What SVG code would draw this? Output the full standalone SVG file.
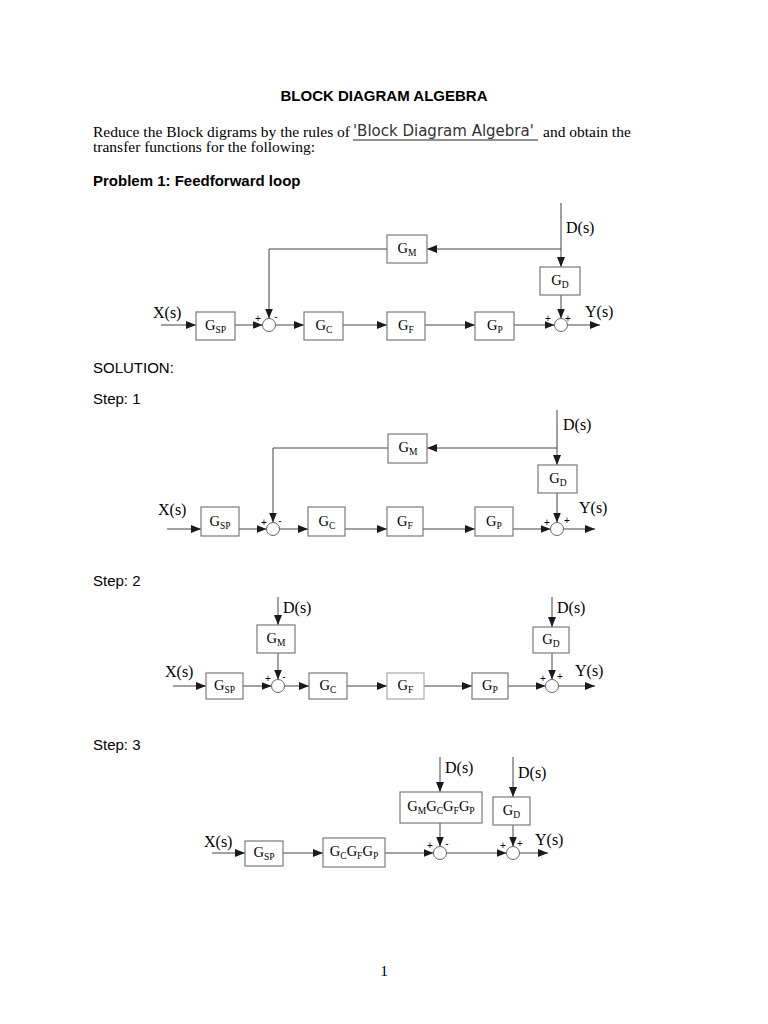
<svg xmlns="http://www.w3.org/2000/svg" width="768" height="1024" viewBox="0 0 768 1024">
<defs>
<marker id="arr" markerUnits="userSpaceOnUse" markerWidth="10" markerHeight="8" refX="10" refY="4" orient="auto">
<path d="M0,0 L10,4 L0,8 z" fill="#1a1a1a"/>
</marker>
<style>
.hd{font-family:"Liberation Sans",Arial,sans-serif;font-size:15px;fill:#000}
.b{font-weight:bold}
.tm{font-family:"Liberation Serif","Times New Roman",serif;font-size:15.5px;fill:#000}
.lk{font-family:"DejaVu Sans",Verdana,sans-serif;font-size:15px;fill:#333}
.sig{font-family:"Liberation Serif","Times New Roman",serif;font-size:16px;fill:#000}
.g{font-family:"Liberation Serif","Times New Roman",serif;font-size:14.5px;fill:#000;text-anchor:middle}
.sub{font-size:9.5px}
.sg{font-family:"Liberation Sans",Arial,sans-serif;font-size:10px;fill:#000;text-anchor:middle}
.box{fill:#fff;stroke:#7a7a7a;stroke-width:1.2}
.sum{fill:#fff;stroke:#666;stroke-width:1}
.ln{fill:none;stroke:#444;stroke-width:1}
.ar{fill:none;stroke:#444;stroke-width:1;marker-end:url(#arr)}
</style>
</defs>
<rect width="768" height="1024" fill="#fff"/>

<g id="header">
<text class="hd b" x="384" y="101" text-anchor="middle">BLOCK DIAGRAM ALGEBRA</text>
<text class="tm" x="93" y="137">Reduce the Block digrams by the rules of</text>
<text class="lk" x="353" y="136">'Block Diagram Algebra'</text>
<line x1="353" y1="140" x2="538" y2="140" stroke="#222" stroke-width="1"/>
<text class="tm" x="543" y="137">and obtain the</text>
<text class="tm" x="93" y="152">transfer functions for the following:</text>
<text class="hd b" x="93" y="186">Problem 1: Feedforward loop</text>
<text class="hd" x="93" y="373">SOLUTION:</text>
<text class="hd" x="93" y="404">Step: 1</text>
<text class="hd" x="93" y="586">Step: 2</text>
<text class="hd" x="93" y="750">Step: 3</text>
<text class="tm" x="384" y="976" text-anchor="middle" font-size="13">1</text>
</g>

<!-- ================= Problem 1 ================= -->
<g id="p1-connectors">
<line class="ar" x1="161" y1="325" x2="196" y2="325"/>
<line class="ar" x1="235" y1="325" x2="262.5" y2="325"/>
<line class="ar" x1="275.5" y1="325" x2="304" y2="325"/>
<line class="ar" x1="343" y1="325" x2="387" y2="325"/>
<line class="ar" x1="425" y1="325" x2="475" y2="325"/>
<line class="ar" x1="514" y1="325" x2="554.5" y2="325"/>
<line class="ar" x1="567.5" y1="325" x2="600" y2="325"/>
<line class="ar" x1="561" y1="203" x2="561" y2="267"/>
<line class="ar" x1="561" y1="249" x2="427" y2="249"/>
<polyline class="ar" points="387,249 269,249 269,318.5"/>
<line class="ar" x1="561" y1="295" x2="561" y2="318.5"/>
</g>
<g id="p1-labels">
<text class="sig" x="153" y="318">X(s)</text>
<text class="sig" x="585" y="317">Y(s)</text>
<text class="sig" x="566" y="233">D(s)</text>
<text class="sg" x="258" y="322">+</text>
<text class="sg" x="276" y="320">-</text>
<text class="sg" x="548" y="322">+</text>
<text class="sg" x="568" y="322">+</text>
</g>
<g id="p1-GSP"><rect class="box" x="196" y="312" width="39" height="28"/><text class="g" x="215.5" y="330">G<tspan class="sub" dy="3">SP</tspan></text></g>
<g id="p1-sum1"><circle class="sum" cx="269" cy="325" r="6.5"/></g>
<g id="p1-GC"><rect class="box" x="304" y="312" width="39" height="28"/><text class="g" x="324" y="330">G<tspan class="sub" dy="3">C</tspan></text></g>
<g id="p1-GF"><rect class="box" x="387" y="312" width="38" height="28"/><text class="g" x="406" y="330">G<tspan class="sub" dy="3">F</tspan></text></g>
<g id="p1-GP"><rect class="box" x="475" y="312" width="39" height="28"/><text class="g" x="495" y="330">G<tspan class="sub" dy="3">P</tspan></text></g>
<g id="p1-sum2"><circle class="sum" cx="561" cy="325" r="6.5"/></g>
<g id="p1-GD"><rect class="box" x="540" y="267" width="40" height="28"/><text class="g" x="560" y="285">G<tspan class="sub" dy="3">D</tspan></text></g>
<g id="p1-GM"><rect class="box" x="387" y="235" width="40" height="28"/><text class="g" x="407" y="253">G<tspan class="sub" dy="3">M</tspan></text></g>

<!-- ================= Step 1 ================= -->
<g id="s1-connectors">
<line class="ar" x1="167" y1="529" x2="201" y2="529"/>
<line class="ar" x1="239" y1="529" x2="266.5" y2="529"/>
<line class="ar" x1="279.5" y1="529" x2="308" y2="529"/>
<line class="ar" x1="345" y1="529" x2="387" y2="529"/>
<line class="ar" x1="423" y1="529" x2="475" y2="529"/>
<line class="ar" x1="513" y1="529" x2="550.5" y2="529"/>
<line class="ar" x1="563.5" y1="529" x2="595" y2="529"/>
<line class="ar" x1="557" y1="410" x2="557" y2="465"/>
<line class="ar" x1="557" y1="448" x2="427" y2="448"/>
<polyline class="ar" points="388,448 273,448 273,522.5"/>
<line class="ar" x1="557" y1="493" x2="557" y2="522.5"/>
</g>
<g id="s1-labels">
<text class="sig" x="158" y="515">X(s)</text>
<text class="sig" x="579" y="513">Y(s)</text>
<text class="sig" x="563" y="430">D(s)</text>
<text class="sg" x="264" y="526">+</text>
<text class="sg" x="280" y="524">-</text>
<text class="sg" x="547" y="526">+</text>
<text class="sg" x="567" y="524">+</text>
</g>
<g id="s1-GSP"><rect class="box" x="201" y="507" width="38" height="29"/><text class="g" x="220" y="526">G<tspan class="sub" dy="3">SP</tspan></text></g>
<g id="s1-sum1"><circle class="sum" cx="273" cy="529" r="6.5"/></g>
<g id="s1-GC"><rect class="box" x="308" y="507" width="37" height="29"/><text class="g" x="327" y="526">G<tspan class="sub" dy="3">C</tspan></text></g>
<g id="s1-GF"><rect class="box" x="387" y="507" width="36" height="29"/><text class="g" x="405" y="526">G<tspan class="sub" dy="3">F</tspan></text></g>
<g id="s1-GP"><rect class="box" x="475" y="507" width="38" height="29"/><text class="g" x="494" y="526">G<tspan class="sub" dy="3">P</tspan></text></g>
<g id="s1-sum2"><circle class="sum" cx="557" cy="529" r="6.5"/></g>
<g id="s1-GD"><rect class="box" x="538" y="465" width="39" height="28"/><text class="g" x="558" y="483">G<tspan class="sub" dy="3">D</tspan></text></g>
<g id="s1-GM"><rect class="box" x="388" y="434" width="39" height="29"/><text class="g" x="408" y="452">G<tspan class="sub" dy="3">M</tspan></text></g>

<!-- ================= Step 2 ================= -->
<g id="s2-connectors">
<line class="ar" x1="173" y1="686" x2="206" y2="686"/>
<line class="ar" x1="243" y1="686" x2="271.5" y2="686"/>
<line class="ar" x1="284.5" y1="686" x2="309" y2="686"/>
<line class="ar" x1="347" y1="686" x2="387" y2="686"/>
<line class="ar" x1="424" y1="686" x2="472" y2="686"/>
<line class="ar" x1="508" y1="686" x2="545.5" y2="686"/>
<line class="ar" x1="558.5" y1="686" x2="595" y2="686"/>
<line class="ar" x1="278" y1="597" x2="278" y2="625"/>
<line class="ar" x1="278" y1="653" x2="278" y2="679.5"/>
<line class="ar" x1="552" y1="597" x2="552" y2="627"/>
<line class="ar" x1="552" y1="653" x2="552" y2="679.5"/>
</g>
<g id="s2-labels">
<text class="sig" x="165" y="677">X(s)</text>
<text class="sig" x="575" y="676">Y(s)</text>
<text class="sig" x="283" y="613">D(s)</text>
<text class="sig" x="557" y="613">D(s)</text>
<text class="sg" x="268" y="682">+</text>
<text class="sg" x="284" y="680">-</text>
<text class="sg" x="543" y="682">+</text>
<text class="sg" x="560" y="680">+</text>
</g>
<g id="s2-GSP"><rect class="box" x="206" y="673" width="37" height="26"/><text class="g" x="224.5" y="690">G<tspan class="sub" dy="3">SP</tspan></text></g>
<g id="s2-GM"><rect class="box" x="257" y="625" width="38" height="28"/><text class="g" x="276" y="643">G<tspan class="sub" dy="3">M</tspan></text></g>
<g id="s2-sum1"><circle class="sum" cx="278" cy="686" r="6.5"/></g>
<g id="s2-GC"><rect class="box" x="309" y="673" width="38" height="26"/><text class="g" x="328" y="690">G<tspan class="sub" dy="3">C</tspan></text></g>
<g id="s2-GF"><rect class="box" x="387" y="673" width="37" height="26" style="stroke:#aaa"/><text class="g" x="405.5" y="690">G<tspan class="sub" dy="3">F</tspan></text></g>
<g id="s2-GP"><rect class="box" x="472" y="673" width="36" height="26"/><text class="g" x="490" y="690">G<tspan class="sub" dy="3">P</tspan></text></g>
<g id="s2-sum2"><circle class="sum" cx="552" cy="686" r="6.5"/></g>
<g id="s2-GD"><rect class="box" x="533" y="627" width="36" height="26"/><text class="g" x="551" y="644">G<tspan class="sub" dy="3">D</tspan></text></g>

<!-- ================= Step 3 ================= -->
<g id="s3-connectors">
<line class="ar" x1="212" y1="853" x2="245" y2="853"/>
<line class="ar" x1="283" y1="853" x2="323" y2="853"/>
<line class="ar" x1="385" y1="853" x2="433.5" y2="853"/>
<line class="ar" x1="446.5" y1="853" x2="506.5" y2="853"/>
<line class="ar" x1="519.5" y1="853" x2="548" y2="853"/>
<line class="ar" x1="440" y1="757" x2="440" y2="792"/>
<line class="ar" x1="440" y1="823" x2="440" y2="846.5"/>
<line class="ar" x1="513" y1="757" x2="513" y2="797"/>
<line class="ar" x1="513" y1="825" x2="513" y2="846.5"/>
</g>
<g id="s3-labels">
<text class="sig" x="204" y="847">X(s)</text>
<text class="sig" x="535" y="845">Y(s)</text>
<text class="sig" x="445" y="773">D(s)</text>
<text class="sig" x="518" y="778">D(s)</text>
<text class="sg" x="430" y="849">+</text>
<text class="sg" x="447" y="847">-</text>
<text class="sg" x="503" y="849">+</text>
<text class="sg" x="520" y="847">+</text>
</g>
<g id="s3-GSP"><rect class="box" x="245" y="841" width="38" height="25"/><text class="g" x="264" y="857">G<tspan class="sub" dy="3">SP</tspan></text></g>
<g id="s3-GCGFGP"><rect class="box" x="323" y="838" width="62" height="29"/><text class="g" x="354" y="856">G<tspan class="sub" dy="3">C</tspan><tspan dy="-3">G</tspan><tspan class="sub" dy="3">F</tspan><tspan dy="-3">G</tspan><tspan class="sub" dy="3">P</tspan></text></g>
<g id="s3-sum1"><circle class="sum" cx="440" cy="853" r="6.5"/></g>
<g id="s3-GMGCGFGP"><rect class="box" x="400" y="792" width="82" height="31"/><text class="g" x="441" y="811">G<tspan class="sub" dy="3">M</tspan><tspan dy="-3">G</tspan><tspan class="sub" dy="3">C</tspan><tspan dy="-3">G</tspan><tspan class="sub" dy="3">F</tspan><tspan dy="-3">G</tspan><tspan class="sub" dy="3">P</tspan></text></g>
<g id="s3-sum2"><circle class="sum" cx="513" cy="853" r="6.5"/></g>
<g id="s3-GD"><rect class="box" x="493" y="797" width="37" height="28"/><text class="g" x="511.5" y="815">G<tspan class="sub" dy="3">D</tspan></text></g>
</svg>
